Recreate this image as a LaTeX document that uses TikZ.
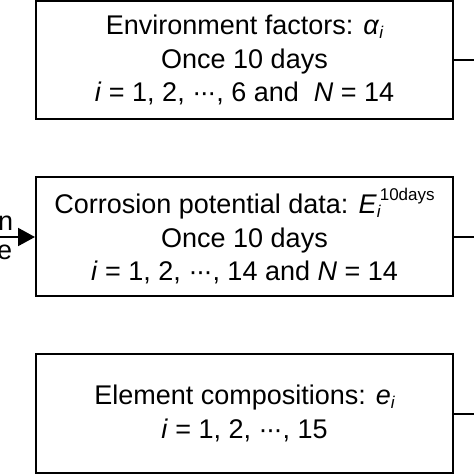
\documentclass[tikz,border=0pt]{standalone}
\usepackage{fontspec}
\setmainfont{Liberation Sans}
\usetikzlibrary{arrows.meta}
\newcommand\mysub[1]{\raisebox{-4pt}{\fontsize{17}{17}\selectfont\itshape #1}}
\newcommand\mysup[1]{\raisebox{13pt}{\fontsize{17}{17}\selectfont #1}}
\newcommand\mydots{·\kern-1.5pt·\kern-1.5pt·}
\begin{document}
\begin{tikzpicture}[x=1pt,y=-1pt,
  bigfont/.style={font=\fontsize{27}{33.5}\selectfont},
  boxnode/.style={draw, line width=2pt, minimum width=417pt, align=center, inner sep=0pt, bigfont},
  lbl/.style={inner sep=0pt, bigfont},
  wire/.style={line width=2pt}]
\useasboundingbox (0,0) rectangle (474,474);
\coordinate (rightedge) at (476,0);
\coordinate (arrin) at (-2,237);

\node[boxnode, minimum height=118pt] (env) at (244.5,60)
  {Environment factors: \textit{α}\mysub{i}\\
   Once 10 days\\
   \textit{i} = 1, 2, \mydots, 6 and\ \ \textit{N} = 14};

\node[boxnode, minimum height=119pt] (corr) at (244.5,236.5)
  {Corrosion potential data: \textit{E}\rlap{\mysub{i}}\kern3pt\mysup{10days}\\
   Once 10 days\\
   \textit{i} = 1, 2, \mydots, 14 and \textit{N} = 14};

\node[boxnode, minimum height=119pt] (elem) at (244.5,413.5)
  {Element compositions: \textit{e}\mysub{i}\\
   \textit{i} = 1, 2, \mydots, 15};

\node[lbl, anchor=base west] (lbln) at (-2,230) {n};
\node[lbl, anchor=base west] (lble) at (-3,259) {e};

\draw[wire, -{Triangle[length=17pt,width=18pt]}] (arrin) -- (arrin -| corr.west);
\draw[wire] (env.east) -- (env.east -| rightedge);
\draw[wire] (corr.east) -- (corr.east -| rightedge);
\draw[wire] (elem.east) -- (elem.east -| rightedge);
\end{tikzpicture}
\end{document}
